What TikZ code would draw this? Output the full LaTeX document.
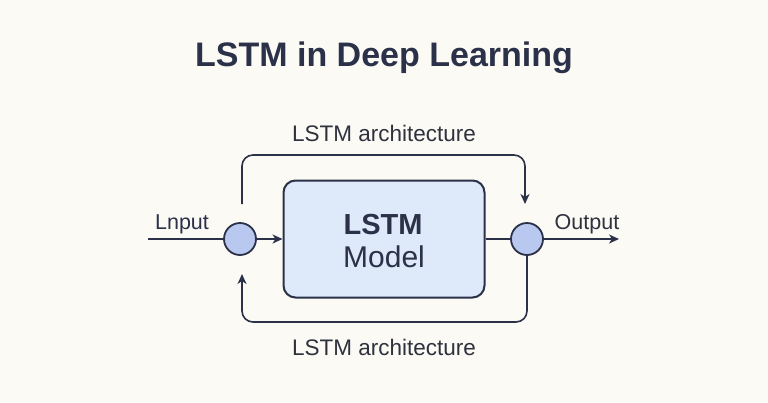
\documentclass[tikz,border=0pt]{standalone}
\usepackage{fontspec}
\setmainfont{Liberation Sans}
\usetikzlibrary{arrows.meta}
\definecolor{bgc}{HTML}{FCFAF5}
\definecolor{ink}{HTML}{2A3148}
\definecolor{txt}{HTML}{2E323D}
\definecolor{boxfill}{HTML}{DEE9FA}
\definecolor{circfill}{HTML}{B8C8EE}
\tikzset{
  conn/.style={draw=ink, line width=1.6pt, rounded corners=11pt},
  arr/.style={-{Stealth[length=10pt,width=9pt,inset=3pt]}},
  gate/.style={circle, draw=ink, line width=1.8pt, fill=circfill, minimum size=32pt, inner sep=0pt},
  modelbox/.style={draw=ink, line width=2pt, fill=boxfill, rounded corners=12pt, minimum width=201pt, minimum height=117pt},
  lbl/.style={text=txt, inner sep=0pt}
}
\begin{document}
\begin{tikzpicture}[x=1pt,y=-1pt]
\fill[bgc] (0,0) rectangle (768,402);
\useasboundingbox (0,0) rectangle (768,402);
\node[lbl, text=ink, font=\fontsize{34}{40}\selectfont\bfseries] (title) at (384,58) {LSTM in Deep Learning};
\node[modelbox] (model) at (384,239) {};
\node[lbl, text=ink, font=\fontsize{29}{34}\selectfont\bfseries] (m1) at (383,225) {LSTM};
\node[lbl, text=ink, font=\fontsize{30}{36}\selectfont] (m2) at (384,257) {Model};
\node[gate] (gin) at (240,239) {};
\node[gate] (gout) at (527,239) {};
\coordinate (inStart) at (148,239);
\coordinate (outEnd) at (619,239);
\coordinate (topStart) at (242,204);
\coordinate (topEnd) at (525,204);
\coordinate (botEnd) at (242,274);
\node[lbl, text=ink, font=\fontsize{21.5}{25}\selectfont] (inlbl) at (182,224) {Lnput};
\node[lbl, font=\fontsize{21.5}{25}\selectfont] (outlbl) at (587,224) {Output};
\node[lbl, font=\fontsize{22.5}{27}\selectfont] (toplbl) at (384,133) {LSTM architecture};
\node[lbl, font=\fontsize{22.5}{27}\selectfont] (botlbl) at (384,347) {LSTM architecture};
\draw[draw=ink, line width=1.6pt] (inStart) -- (gin.west);
\draw[draw=ink, line width=1.6pt, arr] (gin.east) -- (model.west);
\draw[draw=ink, line width=1.6pt] (model.east) -- (gout.west);
\draw[draw=ink, line width=1.6pt, arr] (gout.east) -- (outEnd);
\draw[conn, arr] (topStart) -- (242,155) -- (525,155) -- (topEnd);
\draw[conn, arr] (gout.south) -- (527,322) -- (242,322) -- (botEnd);
\end{tikzpicture}
\end{document}
